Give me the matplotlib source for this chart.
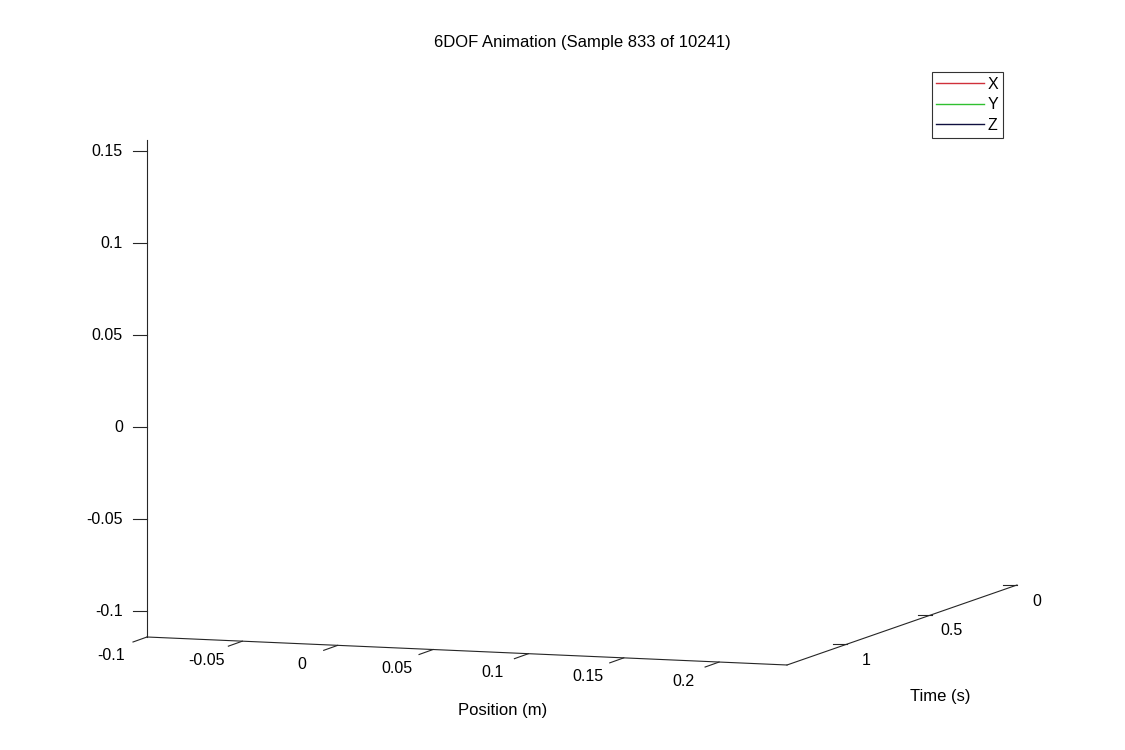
import matplotlib
matplotlib.use("Agg")
import matplotlib.pyplot as plt
from matplotlib.lines import Line2D

plt.rcParams['font.family'] = ['Liberation Sans', 'DejaVu Sans']

title = "6DOF Animation (Sample 833 of 10241)"
pos_ticks = [-0.1, -0.05, 0, 0.05, 0.1, 0.15, 0.2]
pos_labels = ["-0.1", "-0.05", "0", "0.05", "0.1", "0.15", "0.2"]
pos_lim = (-0.1, 0.2356)
time_ticks = [0, 0.5, 1]
time_labels = ["0", "0.5", "1"]
time_lim = (0, 1.35)
z_ticks = [-0.1, -0.05, 0, 0.05, 0.1, 0.15]
z_labels = ["-0.1", "-0.05", "0", "0.05", "0.1", "0.15"]
z_lim = (-0.114, 0.156)
legend_names = ["X", "Y", "Z"]
legend_colors = ["#d0303a", "#30c030", "#101040"]

# projection of the 3D box onto the figure (pixel coords)
CORNER = (147, 637)          # pos=-0.1, time=max, z=min
POS_END = (787, 665)         # pos=max, time=max
TIME_ZERO = (1017, 585)      # pos=max, time=0
Z_TOP = 140


def p_pos(x):
    f = (x - pos_lim[0]) / (pos_lim[1] - pos_lim[0])
    return CORNER[0] + f * (POS_END[0] - CORNER[0]), CORNER[1] + f * (POS_END[1] - CORNER[1])


def p_time(t):
    f = (t - time_lim[0]) / (time_lim[1] - time_lim[0])
    return TIME_ZERO[0] + f * (POS_END[0] - TIME_ZERO[0]), TIME_ZERO[1] + f * (POS_END[1] - TIME_ZERO[1])


def p_z(z):
    f = (z - z_lim[0]) / (z_lim[1] - z_lim[0])
    return CORNER[0], CORNER[1] - f * (CORNER[1] - Z_TOP)


fig = plt.figure(figsize=(11.25, 7.5), dpi=100)
ax = fig.add_axes([0, 0, 1, 1])
ax.set_xlim(0, 1125); ax.set_ylim(750, 0); ax.axis("off")
lc = "#262626"; lw = 0.8; fs = 11.5

# axis lines
ax.plot([p_pos(pos_lim[0])[0], p_pos(pos_lim[1])[0]], [p_pos(pos_lim[0])[1], p_pos(pos_lim[1])[1]], color=lc, lw=lw)
ax.plot([p_time(time_lim[0])[0], p_time(time_lim[1])[0]], [p_time(time_lim[0])[1], p_time(time_lim[1])[1]], color=lc, lw=lw)
ax.plot([p_z(z_lim[0])[0], p_z(z_lim[1])[0]], [p_z(z_lim[0])[1], p_z(z_lim[1])[1]], color=lc, lw=lw)

# position ticks (point along the time direction)
for v, s in zip(pos_ticks, pos_labels):
    x, y = p_pos(v)
    ax.plot([x, x - 14], [y, y + 5], color=lc, lw=lw)
    ax.text(x - 36, y + 19, s, ha="center", va="center", fontsize=fs)
ax.text(503, 710, "Position (m)", ha="center", va="center", fontsize=fs + 0.5)

# time ticks (horizontal, pointing left)
for v, s in zip(time_ticks, time_labels):
    x, y = p_time(v)
    ax.plot([x, x - 14], [y, y], color=lc, lw=lw)
    ax.text(x + 20, y + 16, s, ha="center", va="center", fontsize=fs)
ax.text(940, 696, "Time (s)", ha="center", va="center", fontsize=fs + 0.5)

# z ticks
for v, s in zip(z_ticks, z_labels):
    x, y = p_z(v)
    ax.plot([x - 14, x], [y, y], color=lc, lw=lw)
    ax.text(x - 24, y, s, ha="right", va="center", fontsize=fs)

ax.text(582, 42, title, ha="center", va="center", fontsize=fs + 0.5)

handles = [Line2D([], [], color=c, lw=1) for c in legend_colors]
leg = fig.legend(handles, legend_names, loc="upper right", bbox_to_anchor=(1003 / 1125, 1 - 72 / 750),
                 fontsize=fs, frameon=True, fancybox=False, edgecolor="black", handlelength=3.0,
                 handletextpad=0.2, labelspacing=0.35, borderpad=0.3, borderaxespad=0)
leg.get_frame().set_linewidth(0.8)

fig.savefig("out.png", dpi=100)
